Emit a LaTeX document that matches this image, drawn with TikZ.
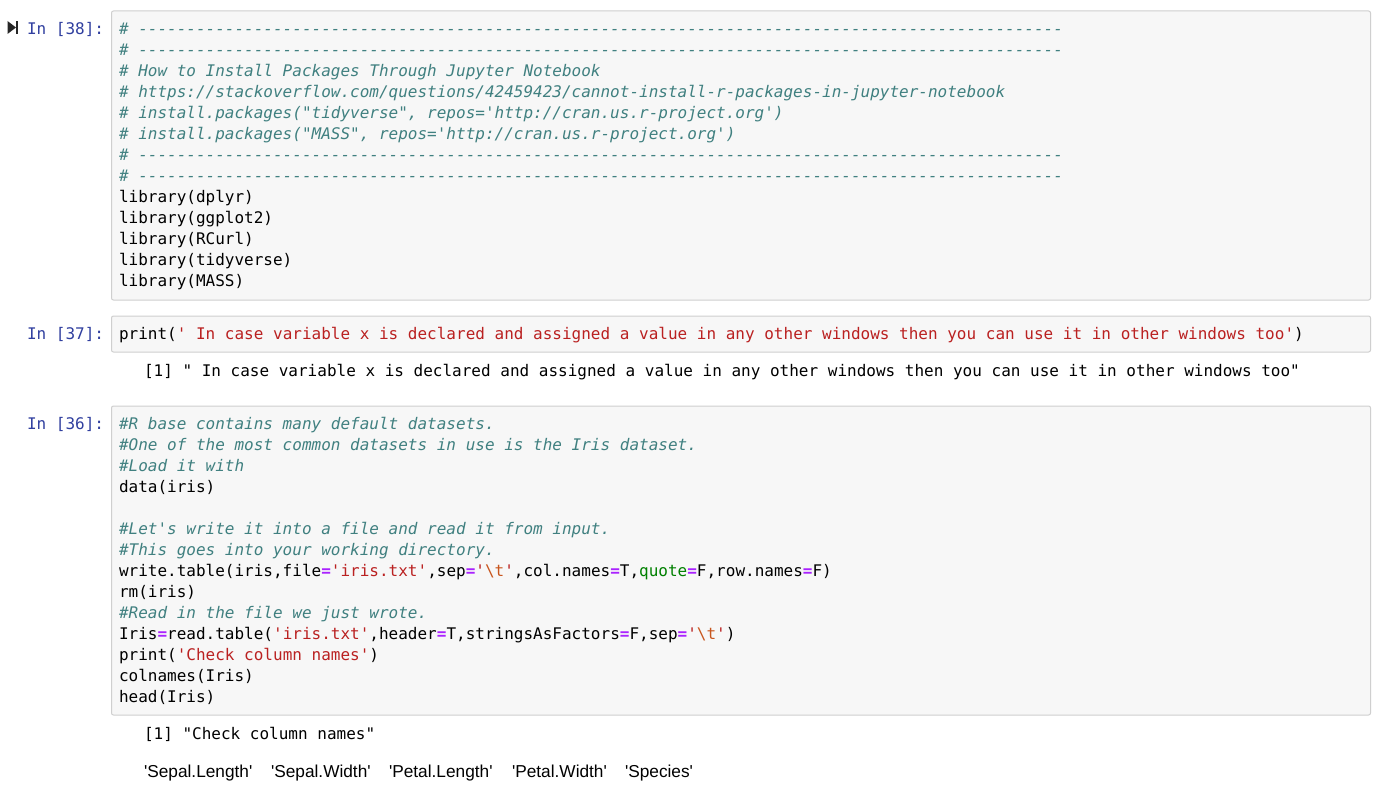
\documentclass[tikz,border=0pt]{standalone}
\usepackage{fontspec}
\newfontfamily\plainf{Liberation Sans}
\setmonofont{DejaVu Sans Mono}
\definecolor{cmcomment}{HTML}{408080}
\definecolor{cmstring}{HTML}{BA2121}
\definecolor{cmesc}{HTML}{C8561E}
\definecolor{cmop}{HTML}{AA22FF}
\definecolor{cmgreen}{HTML}{008000}
\definecolor{prompt}{HTML}{303F9F}
\definecolor{cellbg}{HTML}{F7F7F7}
\definecolor{cellline}{HTML}{CFCFCF}
\newcommand{\cmt}[1]{\textcolor{cmcomment}{\itshape #1}}
\newcommand{\str}[1]{\textcolor{cmstring}{#1}}
\newcommand{\eqop}{\textcolor{cmop}{\bfseries =}}
\newcommand{\tabesc}{\str{'}\textcolor{cmesc}{\textbackslash t}\str{'}}
\newcommand{\rulers}{\cmt{\# ------------------------------------------------------------------------------------------------}}
\tikzset{
  cellbox/.style={draw=cellline,fill=cellbg,line width=0.75pt,rounded corners=1.5pt},
  codeline/.style={anchor=base west,inner sep=0pt,outer sep=0pt,font=\ttfamily\fontsize{12pt}{14pt}\selectfont,text=black},
  promptline/.style={codeline,text=prompt},
  plainline/.style={anchor=base west,inner sep=0pt,outer sep=0pt,font=\plainf\fontsize{12.95pt}{15pt}\selectfont,text=black}
}
\begin{document}
\begin{tikzpicture}[x=0.75pt,y=-0.75pt]
\useasboundingbox (0,0) rectangle (1387,788);
\fill[white] (0,0) rectangle (1387,788);
% cells
\node[cellbox,minimum width=0.75*1259pt,minimum height=0.75*289pt,anchor=north west,inner sep=0pt] (cellA) at (111,10.5) {};
\node[cellbox,minimum width=0.75*1259pt,minimum height=0.75*36pt,anchor=north west,inner sep=0pt] (cellB) at (111,315.5) {};
\node[cellbox,minimum width=0.75*1259pt,minimum height=0.75*309pt,anchor=north west,inner sep=0pt] (cellC) at (111,405.5) {};
% run marker
\fill[black!85] (7.5,21) -- (16,27.5) -- (7.5,34) -- cycle;
\fill[black!85] (15.5,21) rectangle (18,34);
% prompts
\node[promptline] (pA) at (27,34.5) {In [38]:};
\node[promptline] (pB) at (27,339) {In [37]:};
\node[promptline] (pC) at (27,429) {In [36]:};
% cell A
\node[codeline] (a1) at (119,34.5) {\rulers};
\node[codeline] (a2) at (119,55.5) {\rulers};
\node[codeline] (a3) at (119,76.5) {\cmt{\# How to Install Packages Through Jupyter Notebook}};
\node[codeline] (a4) at (119,97.5) {\cmt{\# https://stackoverflow.com/questions/42459423/cannot-install-r-packages-in-jupyter-notebook}};
\node[codeline] (a5) at (119,118.5) {\cmt{\# install.packages("tidyverse", repos='http://cran.us.r-project.org')}};
\node[codeline] (a6) at (119,139.5) {\cmt{\# install.packages("MASS", repos='http://cran.us.r-project.org')}};
\node[codeline] (a7) at (119,160.5) {\rulers};
\node[codeline] (a8) at (119,181.5) {\rulers};
\node[codeline] (a9) at (119,202.5) {library(dplyr)};
\node[codeline] (a10) at (119,223.5) {library(ggplot2)};
\node[codeline] (a11) at (119,244.5) {library(RCurl)};
\node[codeline] (a12) at (119,265.5) {library(tidyverse)};
\node[codeline] (a13) at (119,286.5) {library(MASS)};
% cell B
\node[codeline] (b1) at (119,339) {print(\str{' In case variable x is declared and assigned a value in any other windows then you can use it in other windows too'})};
\node[codeline] (b2) at (144,376) {[1] " In case variable x is declared and assigned a value in any other windows then you can use it in other windows too"};
% cell C
\node[codeline] (c1) at (119,429) {\cmt{\#R base contains many default datasets.}};
\node[codeline] (c2) at (119,450) {\cmt{\#One of the most common datasets in use is the Iris dataset.}};
\node[codeline] (c3) at (119,471) {\cmt{\#Load it with}};
\node[codeline] (c4) at (119,492) {data(iris)};
\node[codeline] (c5) at (119,534) {\cmt{\#Let's write it into a file and read it from input.}};
\node[codeline] (c6) at (119,555) {\cmt{\#This goes into your working directory.}};
\node[codeline] (c7) at (119,576) {write.table(iris,file\eqop\str{'iris.txt'},sep\eqop\tabesc,col.names\eqop T,\textcolor{cmgreen}{quote}\eqop F,row.names\eqop F)};
\node[codeline] (c8) at (119,597) {rm(iris)};
\node[codeline] (c9) at (119,618) {\cmt{\#Read in the file we just wrote.}};
\node[codeline] (c10) at (119,639) {Iris\eqop read.table(\str{'iris.txt'},header\eqop T,stringsAsFactors\eqop F,sep\eqop\tabesc)};
\node[codeline] (c11) at (119,660) {print(\str{'Check column names'})};
\node[codeline] (c12) at (119,681) {colnames(Iris)};
\node[codeline] (c13) at (119,702) {head(Iris)};
% outputs
\node[codeline] (o1) at (144,739) {[1] "Check column names"};
\node[plainline] (o2) at (144,777) {'Sepal.Length'};
\node[plainline] (o3) at (271,777) {'Sepal.Width'};
\node[plainline] (o4) at (389,777) {'Petal.Length'};
\node[plainline] (o5) at (512,777) {'Petal.Width'};
\node[plainline] (o6) at (625,777) {'Species'};
\end{tikzpicture}
\end{document}
